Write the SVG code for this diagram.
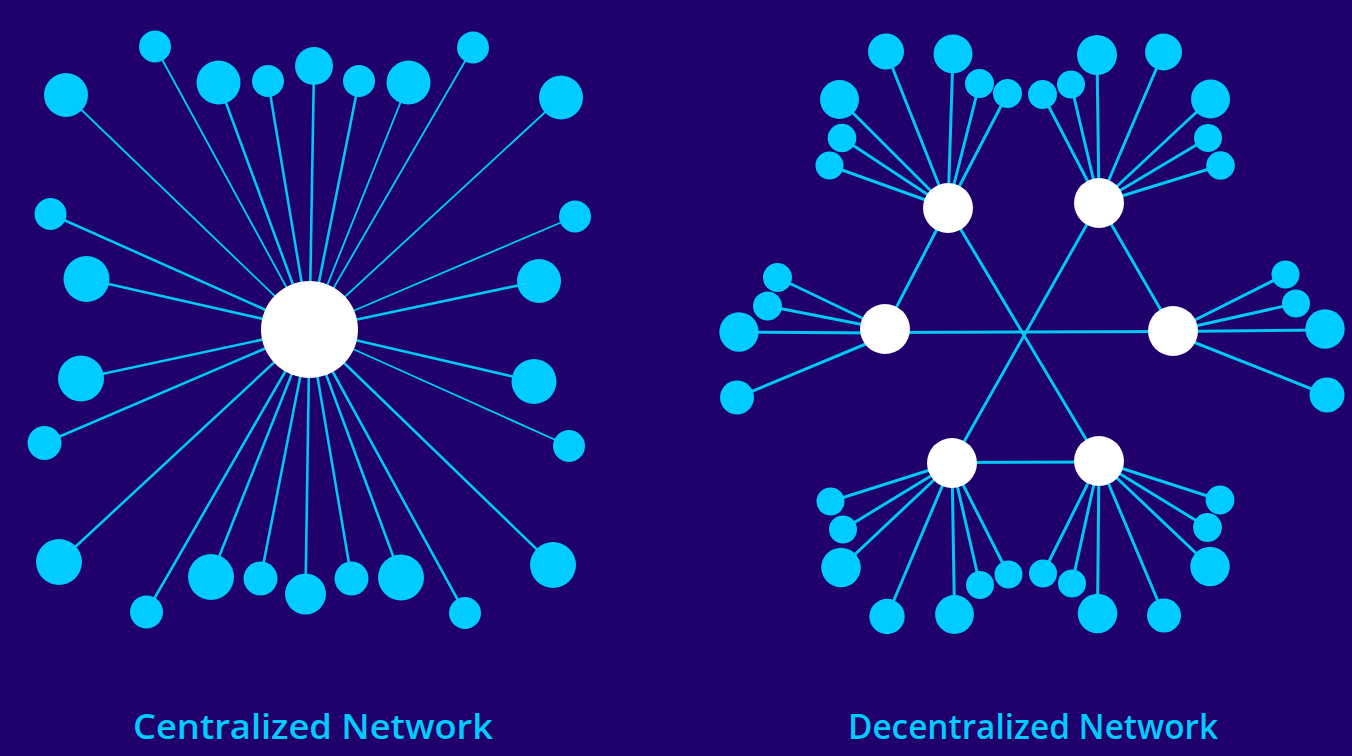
<svg xmlns="http://www.w3.org/2000/svg" width="1352" height="756" viewBox="0 0 1352 756">
<style>
.bg{fill:#20006a}
.leaf{fill:#00ccff}
.hub{fill:#ffffff}
.ln{stroke:#00c8f4;stroke-width:2.6;stroke-linecap:round;fill:none}
.thin{stroke-width:1.9}
.dln{stroke:#00c8f4;stroke-width:3;stroke-linecap:round;fill:none}
.lbl{font-family:"Open Sans","Liberation Sans","DejaVu Sans",sans-serif;font-size:34px;font-weight:600;fill:#00ccff}
</style>
<rect class="bg" x="0" y="0" width="1352" height="756"/>

<!-- Centralized network connectors -->
<g id="central-connectors">
<line class="ln thin" x1="309.5" y1="329.5" x2="155" y2="46.5"/>
<line class="ln thin" x1="309.5" y1="329.5" x2="66" y2="95"/>
<line class="ln" x1="309.5" y1="329.5" x2="218.5" y2="82.5"/>
<line class="ln" x1="309.5" y1="329.5" x2="268" y2="81"/>
<line class="ln" x1="309.5" y1="329.5" x2="314" y2="66"/>
<line class="ln" x1="309.5" y1="329.5" x2="359" y2="81"/>
<line class="ln thin" x1="309.5" y1="329.5" x2="408.5" y2="82.5"/>
<line class="ln thin" x1="309.5" y1="329.5" x2="473" y2="47.5"/>
<line class="ln thin" x1="309.5" y1="329.5" x2="561" y2="97.5"/>
<line class="ln" x1="309.5" y1="329.5" x2="50.5" y2="214"/>
<line class="ln" x1="309.5" y1="329.5" x2="86.5" y2="279"/>
<line class="ln thin" x1="309.5" y1="329.5" x2="575" y2="216.5"/>
<line class="ln" x1="309.5" y1="329.5" x2="539" y2="281"/>
<line class="ln" x1="309.5" y1="329.5" x2="81" y2="378.5"/>
<line class="ln" x1="309.5" y1="329.5" x2="44.5" y2="443"/>
<line class="ln" x1="309.5" y1="329.5" x2="534" y2="381.5"/>
<line class="ln thin" x1="309.5" y1="329.5" x2="569" y2="446"/>
<line class="ln" x1="309.5" y1="329.5" x2="59" y2="562"/>
<line class="ln" x1="309.5" y1="329.5" x2="146.5" y2="612"/>
<line class="ln" x1="309.5" y1="329.5" x2="211" y2="577"/>
<line class="ln" x1="309.5" y1="329.5" x2="260.5" y2="578.5"/>
<line class="ln" x1="309.5" y1="329.5" x2="305.5" y2="594"/>
<line class="ln" x1="309.5" y1="329.5" x2="351.5" y2="578.5"/>
<line class="ln" x1="309.5" y1="329.5" x2="401" y2="577.5"/>
<line class="ln" x1="309.5" y1="329.5" x2="465" y2="613"/>
<line class="ln" x1="309.5" y1="329.5" x2="553" y2="565"/>
</g>

<!-- Centralized network nodes -->
<g id="c-n1"><circle class="leaf" cx="155" cy="46.5" r="16"/></g>
<g id="c-n2"><circle class="leaf" cx="66" cy="95" r="22"/></g>
<g id="c-n3"><circle class="leaf" cx="218.5" cy="82.5" r="22"/></g>
<g id="c-n4"><circle class="leaf" cx="268" cy="81" r="16"/></g>
<g id="c-n5"><circle class="leaf" cx="314" cy="66" r="19"/></g>
<g id="c-n6"><circle class="leaf" cx="359" cy="81" r="16"/></g>
<g id="c-n7"><circle class="leaf" cx="408.5" cy="82.5" r="22"/></g>
<g id="c-n8"><circle class="leaf" cx="473" cy="47.5" r="16"/></g>
<g id="c-n9"><circle class="leaf" cx="561" cy="97.5" r="22"/></g>
<g id="c-n10"><circle class="leaf" cx="50.5" cy="214" r="16"/></g>
<g id="c-n11"><circle class="leaf" cx="86.5" cy="279" r="23"/></g>
<g id="c-n12"><circle class="leaf" cx="575" cy="216.5" r="16"/></g>
<g id="c-n13"><circle class="leaf" cx="539" cy="281" r="22"/></g>
<g id="c-n14"><circle class="leaf" cx="81" cy="378.5" r="23"/></g>
<g id="c-n15"><circle class="leaf" cx="44.5" cy="443" r="17"/></g>
<g id="c-n16"><circle class="leaf" cx="534" cy="381.5" r="22.5"/></g>
<g id="c-n17"><circle class="leaf" cx="569" cy="446" r="16"/></g>
<g id="c-n18"><circle class="leaf" cx="59" cy="562" r="23"/></g>
<g id="c-n19"><circle class="leaf" cx="146.5" cy="612" r="16.5"/></g>
<g id="c-n20"><circle class="leaf" cx="211" cy="577" r="23"/></g>
<g id="c-n21"><circle class="leaf" cx="260.5" cy="578.5" r="17"/></g>
<g id="c-n22"><circle class="leaf" cx="305.5" cy="594" r="20.5"/></g>
<g id="c-n23"><circle class="leaf" cx="351.5" cy="578.5" r="17"/></g>
<g id="c-n24"><circle class="leaf" cx="401" cy="577.5" r="23"/></g>
<g id="c-n25"><circle class="leaf" cx="465" cy="613" r="16"/></g>
<g id="c-n26"><circle class="leaf" cx="553" cy="565" r="23"/></g>
<g id="c-hub"><circle class="hub" cx="309.5" cy="329.5" r="48.5"/></g>

<!-- Decentralized network connectors -->
<g id="decentral-connectors">
<line class="dln" x1="948" y1="208" x2="885" y2="329"/>
<line class="dln" x1="1099" y1="203" x2="1173" y2="331"/>
<line class="dln" x1="885" y1="332.5" x2="1173" y2="331.5"/>
<line class="dln" x1="948" y1="208" x2="1099" y2="461"/>
<line class="dln" x1="1099" y1="203" x2="952" y2="463"/>
<line class="dln" x1="952" y1="462.5" x2="1099" y2="462"/>
<line class="dln" x1="948" y1="208" x2="886" y2="51.5"/>
<line class="dln" x1="948" y1="208" x2="953" y2="54"/>
<line class="dln" x1="948" y1="208" x2="979.5" y2="83.5"/>
<line class="dln" x1="948" y1="208" x2="1007.5" y2="93.5"/>
<line class="dln" x1="948" y1="208" x2="839.5" y2="99.5"/>
<line class="dln" x1="948" y1="208" x2="842" y2="138"/>
<line class="dln" x1="948" y1="208" x2="829.5" y2="165.5"/>
<line class="dln" x1="1099" y1="203" x2="1042.5" y2="94.5"/>
<line class="dln" x1="1099" y1="203" x2="1071" y2="84.5"/>
<line class="dln" x1="1099" y1="203" x2="1097" y2="55"/>
<line class="dln" x1="1099" y1="203" x2="1163.5" y2="52"/>
<line class="dln" x1="1099" y1="203" x2="1210.5" y2="99"/>
<line class="dln" x1="1099" y1="203" x2="1208" y2="138"/>
<line class="dln" x1="1099" y1="203" x2="1220.5" y2="165.5"/>
<line class="dln" x1="885" y1="329" x2="777.5" y2="277.5"/>
<line class="dln" x1="885" y1="329" x2="767.5" y2="306"/>
<line class="dln" x1="885" y1="333" x2="739" y2="332"/>
<line class="dln" x1="885" y1="336" x2="737" y2="397.5"/>
<line class="dln" x1="1173" y1="331" x2="1285.5" y2="274.5"/>
<line class="dln" x1="1173" y1="331" x2="1296" y2="303.5"/>
<line class="dln" x1="1173" y1="331.5" x2="1325" y2="330"/>
<line class="dln" x1="1173" y1="334" x2="1327" y2="395"/>
<line class="dln" x1="952" y1="463" x2="830.5" y2="501.5"/>
<line class="dln" x1="952" y1="463" x2="843" y2="529.5"/>
<line class="dln" x1="952" y1="463" x2="841" y2="567.5"/>
<line class="dln" x1="952" y1="463" x2="887" y2="616.5"/>
<line class="dln" x1="952" y1="463" x2="954.5" y2="614.5"/>
<line class="dln" x1="952" y1="463" x2="980" y2="585"/>
<line class="dln" x1="952" y1="463" x2="1008.5" y2="574.5"/>
<line class="dln" x1="1099" y1="461" x2="1043" y2="573.5"/>
<line class="dln" x1="1099" y1="461" x2="1072" y2="583.5"/>
<line class="dln" x1="1099" y1="461" x2="1097.5" y2="613.5"/>
<line class="dln" x1="1099" y1="461" x2="1164" y2="615.5"/>
<line class="dln" x1="1099" y1="461" x2="1210" y2="566.5"/>
<line class="dln" x1="1099" y1="461" x2="1207.5" y2="527.5"/>
<line class="dln" x1="1099" y1="461" x2="1220" y2="500"/>
</g>

<g id="d-tl1"><circle class="leaf" cx="886" cy="51.5" r="18"/></g>
<g id="d-tl2"><circle class="leaf" cx="953" cy="54" r="19.5"/></g>
<g id="d-tl3"><circle class="leaf" cx="979.5" cy="83.5" r="14.5"/></g>
<g id="d-tl4"><circle class="leaf" cx="1007.5" cy="93.5" r="14.5"/></g>
<g id="d-tl5"><circle class="leaf" cx="839.5" cy="99.5" r="19.5"/></g>
<g id="d-tl6"><circle class="leaf" cx="842" cy="138" r="14.3"/></g>
<g id="d-tl7"><circle class="leaf" cx="829.5" cy="165.5" r="14"/></g>
<g id="d-tr1"><circle class="leaf" cx="1042.5" cy="94.5" r="14.5"/></g>
<g id="d-tr2"><circle class="leaf" cx="1071" cy="84.5" r="14"/></g>
<g id="d-tr3"><circle class="leaf" cx="1097" cy="55" r="20"/></g>
<g id="d-tr4"><circle class="leaf" cx="1163.5" cy="52" r="18.5"/></g>
<g id="d-tr5"><circle class="leaf" cx="1210.5" cy="99" r="19.5"/></g>
<g id="d-tr6"><circle class="leaf" cx="1208" cy="138" r="14"/></g>
<g id="d-tr7"><circle class="leaf" cx="1220.5" cy="165.5" r="14.3"/></g>
<g id="d-l1"><circle class="leaf" cx="777.5" cy="277.5" r="14.5"/></g>
<g id="d-l2"><circle class="leaf" cx="767.5" cy="306" r="14.5"/></g>
<g id="d-l3"><circle class="leaf" cx="739" cy="332" r="19.7"/></g>
<g id="d-l4"><circle class="leaf" cx="737" cy="397.5" r="17"/></g>
<g id="d-r1"><circle class="leaf" cx="1285.5" cy="274.5" r="14"/></g>
<g id="d-r2"><circle class="leaf" cx="1296" cy="303.5" r="14"/></g>
<g id="d-r3"><circle class="leaf" cx="1325" cy="329" r="19.7"/></g>
<g id="d-r4"><circle class="leaf" cx="1327" cy="395" r="17.5"/></g>
<g id="d-bl1"><circle class="leaf" cx="830.5" cy="501.5" r="14"/></g>
<g id="d-bl2"><circle class="leaf" cx="843" cy="529.5" r="14"/></g>
<g id="d-bl3"><circle class="leaf" cx="841" cy="567.5" r="19.8"/></g>
<g id="d-bl4"><circle class="leaf" cx="887" cy="616.5" r="17.7"/></g>
<g id="d-bl5"><circle class="leaf" cx="954.5" cy="614.5" r="19.4"/></g>
<g id="d-bl6"><circle class="leaf" cx="980" cy="585" r="14"/></g>
<g id="d-bl7"><circle class="leaf" cx="1008.5" cy="574.5" r="14"/></g>
<g id="d-br1"><circle class="leaf" cx="1043" cy="573.5" r="14"/></g>
<g id="d-br2"><circle class="leaf" cx="1072" cy="583.5" r="14"/></g>
<g id="d-br3"><circle class="leaf" cx="1097.5" cy="613.5" r="19.8"/></g>
<g id="d-br4"><circle class="leaf" cx="1164" cy="615.5" r="17"/></g>
<g id="d-br5"><circle class="leaf" cx="1210" cy="566.5" r="19.8"/></g>
<g id="d-br6"><circle class="leaf" cx="1207.5" cy="527.5" r="14.4"/></g>
<g id="d-br7"><circle class="leaf" cx="1220" cy="500" r="14.4"/></g>
<g id="d-hub-tl"><circle class="hub" cx="948" cy="208" r="25"/></g>
<g id="d-hub-tr"><circle class="hub" cx="1099" cy="203" r="25"/></g>
<g id="d-hub-l"><circle class="hub" cx="885" cy="329" r="25"/></g>
<g id="d-hub-r"><circle class="hub" cx="1173" cy="331" r="25"/></g>
<g id="d-hub-bl"><circle class="hub" cx="952" cy="463" r="25"/></g>
<g id="d-hub-br"><circle class="hub" cx="1099" cy="461" r="25"/></g>

<g id="labels">
<text class="lbl" x="133" y="739" textLength="360" lengthAdjust="spacingAndGlyphs">Centralized Network</text>
<text class="lbl" x="848" y="739" textLength="370" lengthAdjust="spacingAndGlyphs">Decentralized Network</text>
</g>
</svg>
